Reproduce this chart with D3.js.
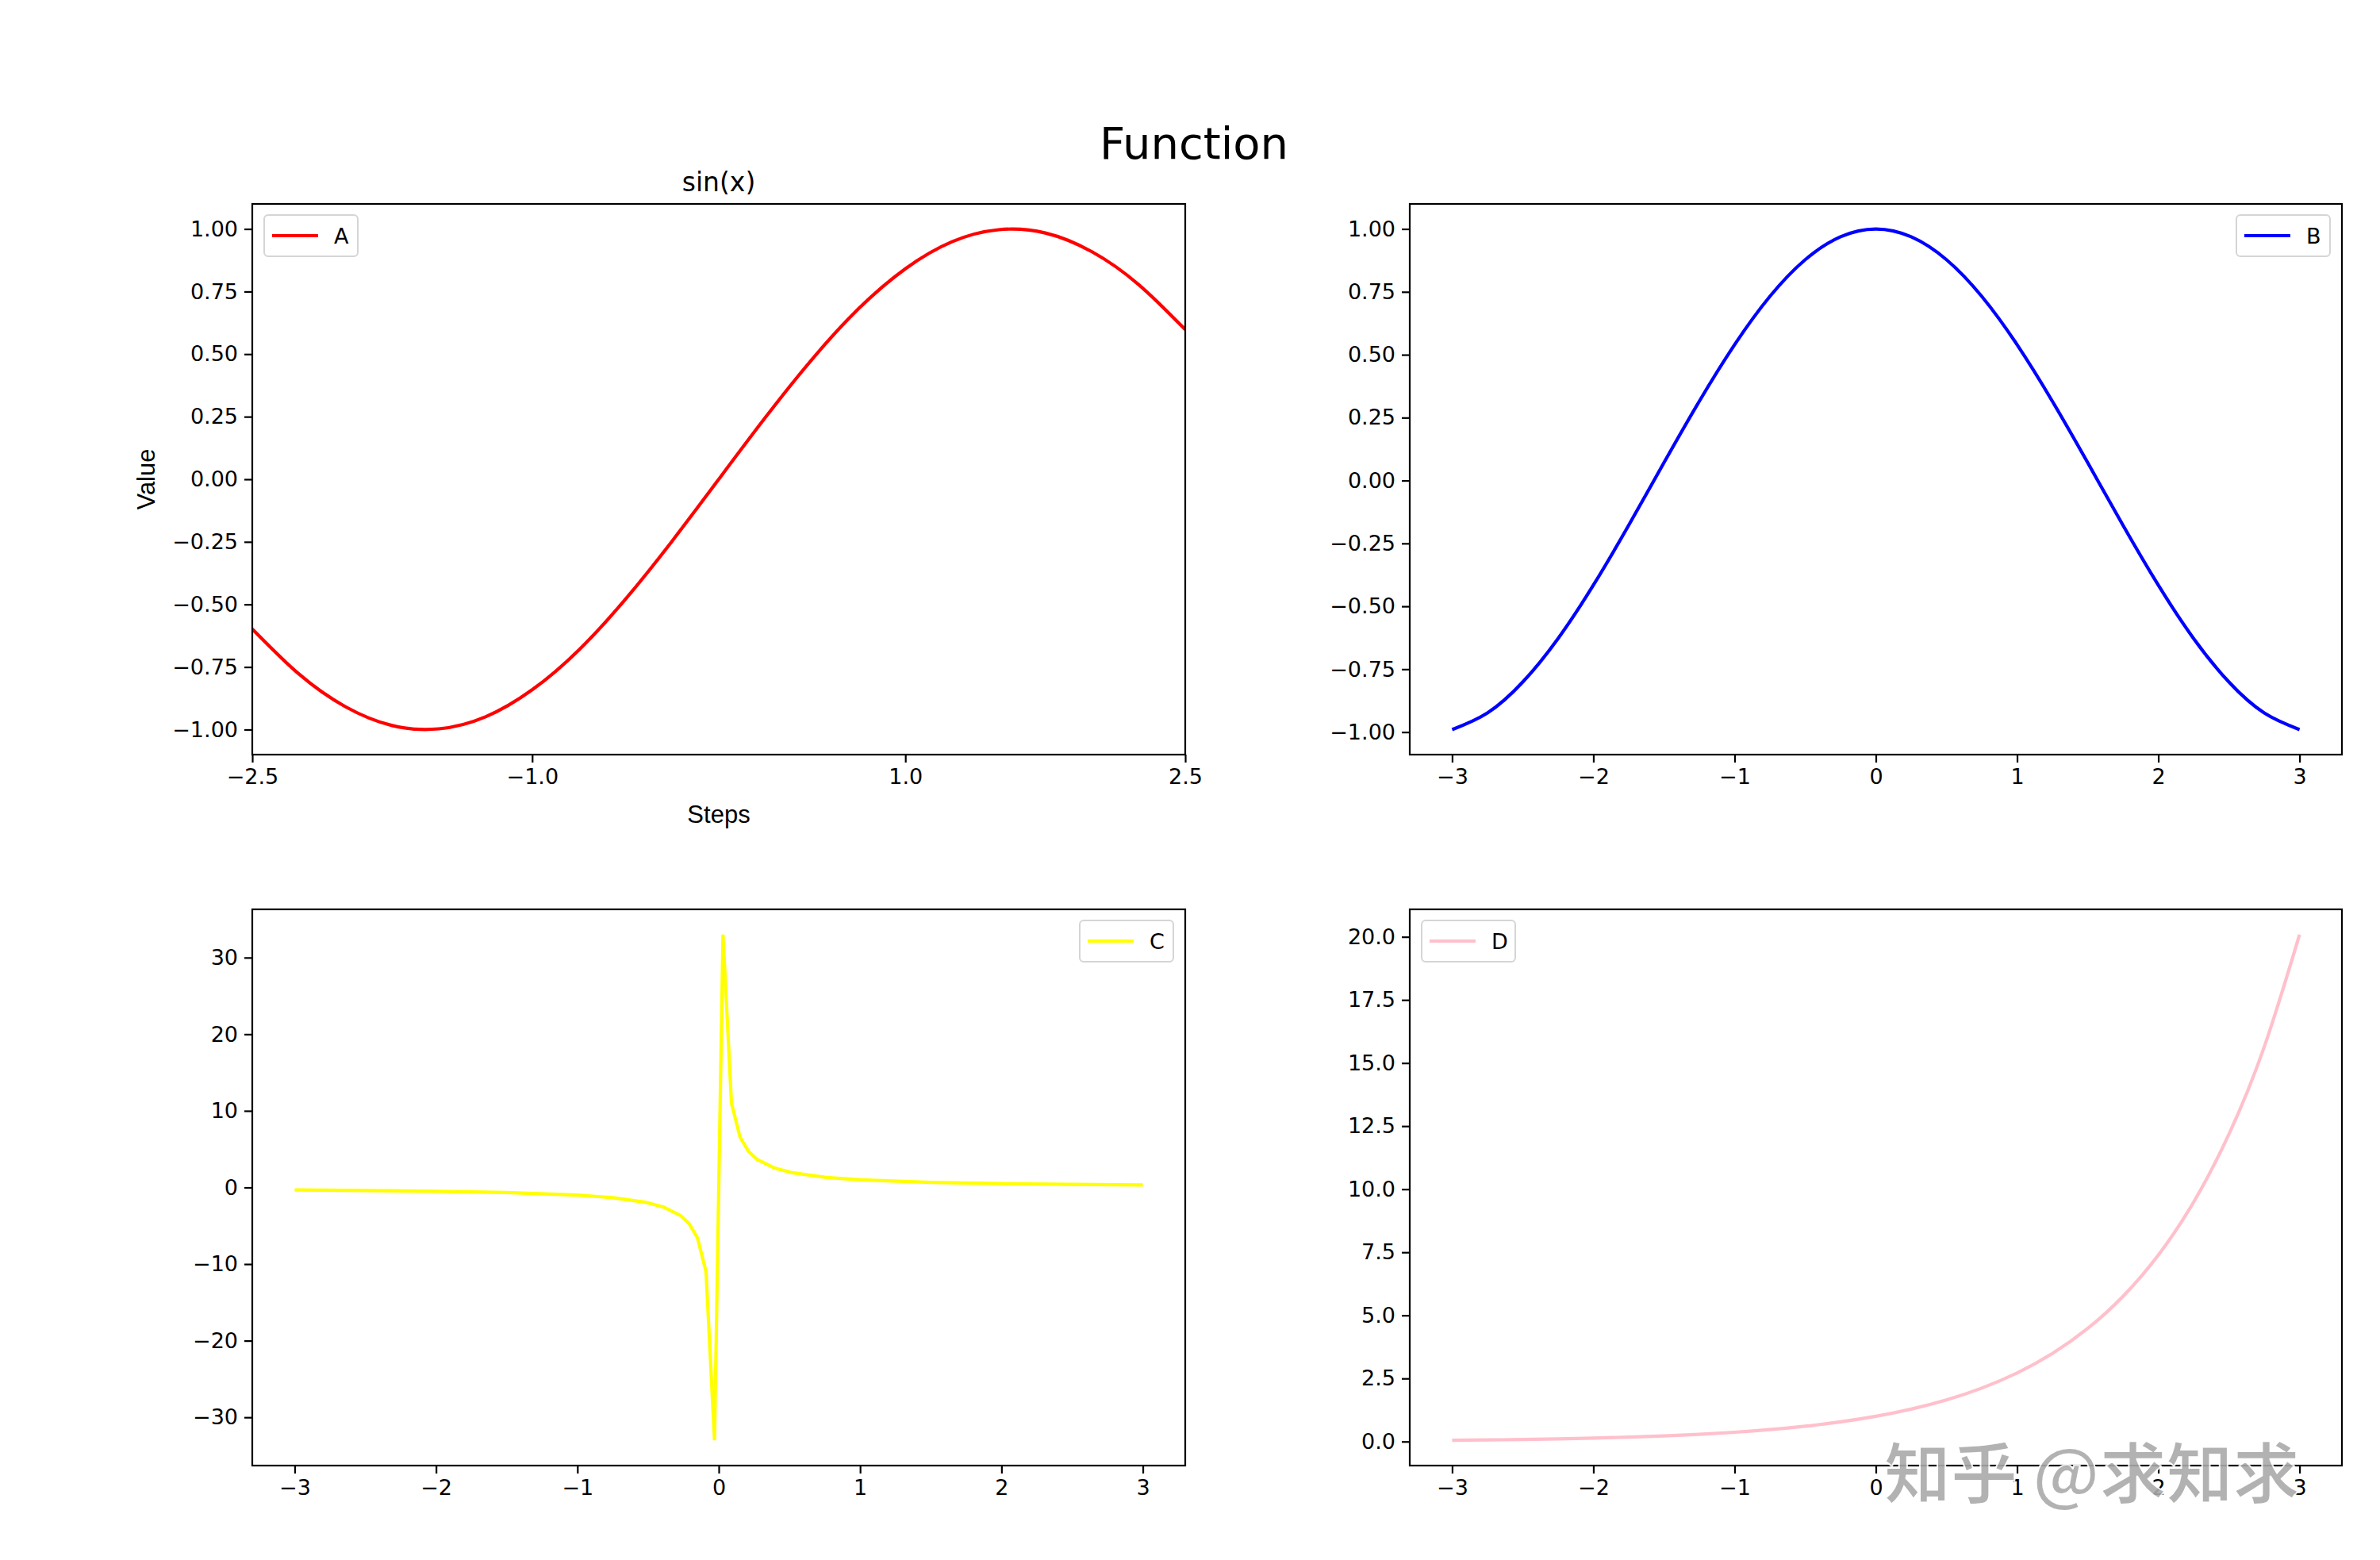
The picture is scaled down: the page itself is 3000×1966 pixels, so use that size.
<!DOCTYPE html>
<html><head><meta charset="utf-8">
<script src="https://cdn.jsdelivr.net/npm/d3@7"></script>
<style>body{margin:0;background:#fff}</style></head>
<body><svg id="c" width="3000" height="1966"></svg>
<script>
const sinX = [-2.5,-2.25,-2,-1.75,-1.5,-1.25,-1,-0.75,-0.5,-0.25,0,0.25,0.5,0.75,1,1.25,1.5,1.75,2,2.25,2.5];
const sinY = [-0.598,-0.778,-0.909,-0.984,-0.997,-0.949,-0.841,-0.682,-0.479,-0.247,0,0.247,0.479,0.682,0.841,0.949,0.997,0.984,0.909,0.778,0.598];
const cosX = [-3,-2.75,-2.5,-2.25,-2,-1.75,-1.5,-1.25,-1,-0.75,-0.5,-0.25,0,0.25,0.5,0.75,1,1.25,1.5,1.75,2,2.25,2.5,2.75,3];
const cosY = [-0.990,-0.924,-0.801,-0.628,-0.416,-0.178,0.071,0.315,0.540,0.732,0.878,0.969,1,0.969,0.878,0.732,0.540,0.315,0.071,-0.178,-0.416,-0.628,-0.801,-0.924,-0.990];
const invX = [-3,-2.5,-2,-1.5,-1,-0.76,-0.52,-0.39,-0.27,-0.21,-0.15,-0.09,-0.03,0.03,0.09,0.15,0.21,0.27,0.39,0.52,0.76,1,1.5,2,2.5,3];
const invY = [-0.333,-0.4,-0.5,-0.667,-1,-1.316,-1.923,-2.564,-3.67,-4.71,-6.6,-11,-33,33,11,6.6,4.71,3.67,2.564,1.923,1.316,1,0.667,0.5,0.4,0.333];
const expX = cosX;
const expY = [0.050,0.064,0.082,0.105,0.135,0.174,0.223,0.287,0.368,0.472,0.607,0.779,1.0,1.284,1.649,2.117,2.718,3.490,4.482,5.755,7.389,9.488,12.18,15.64,20.09];
const ticksA_x = [-2.5,-1.0,1.0,2.5];
const ticksA_y = [-1,-0.75,-0.5,-0.25,0,0.25,0.5,0.75,1];
const ticksInt = [-3,-2,-1,0,1,2,3];
const ticksC_y = [-30,-20,-10,0,10,20,30];
const ticksD_y = [0,2.5,5,7.5,10,12.5,15,17.5,20];

const svg = d3.select('#c');
const F = 'DejaVu Sans, sans-serif';
const minus = s => s.replace(/-/g,'\u2212');

function panel(o){
  const g = svg.append('g');
  const x = d3.scaleLinear().domain(o.xd).range([o.x0,o.x1]);
  const y = d3.scaleLinear().domain(o.yd).range([o.y1,o.y0]);
  const xa = g.append('g').attr('transform',`translate(0,${o.y1})`)
    .call(d3.axisBottom(x).tickValues(o.xt).tickSize(10).tickPadding(8).tickFormat(d=>minus(o.xf(d))));
  const ya = g.append('g').attr('transform',`translate(${o.x0},0)`)
    .call(d3.axisLeft(y).tickValues(o.yt).tickSize(10).tickPadding(8).tickFormat(d=>minus(o.yf(d))));
  [xa,ya].forEach(a=>{a.select('.domain').remove();
    a.selectAll('line').attr('stroke','#000').attr('stroke-width',2.2);
    a.selectAll('text').attr('font-family',F).attr('font-size',27).attr('fill','#000');});
  const clipId='clip'+Math.random().toString(36).slice(2);
  g.append('clipPath').attr('id',clipId).append('rect').attr('x',o.x0).attr('y',o.y0).attr('width',o.x1-o.x0).attr('height',o.y1-o.y0);
  const pts = o.xs.map((v,i)=>[v,o.ys[i]]);
  g.append('path').datum(pts).attr('clip-path',`url(#${clipId})`)
    .attr('d',d3.line().x(d=>x(d[0])).y(d=>y(d[1])).curve(o.curve||d3.curveNatural))
    .attr('fill','none').attr('stroke',o.color).attr('stroke-width',4.2);
  g.append('rect').attr('x',o.x0).attr('y',o.y0).attr('width',o.x1-o.x0).attr('height',o.y1-o.y0)
    .attr('fill','none').attr('stroke','#000').attr('stroke-width',2.2);
  const lw=118, lh=52;
  const lx = o.legend==='left' ? o.x0+15 : o.x1-15-lw, ly=o.y0+14;
  g.append('rect').attr('x',lx).attr('y',ly).attr('width',lw).attr('height',lh).attr('rx',5)
    .attr('fill','#fff').attr('fill-opacity',0.8).attr('stroke','#d5d5d5').attr('stroke-width',2);
  g.append('line').attr('x1',lx+10).attr('x2',lx+68).attr('y1',ly+lh/2).attr('y2',ly+lh/2)
    .attr('stroke',o.color).attr('stroke-width',4.2);
  g.append('text').attr('x',lx+88).attr('y',ly+lh/2+10).text(o.label)
    .attr('font-family',F).attr('font-size',27);
  return {x,y,g};
}

const L=[318,1494], R=[1777,2952], T=[257,951], B=[1146,1847];
const f2=d=>d.toFixed(2), f1=d=>d.toFixed(1), f0=d=>d.toFixed(0);

panel({x0:L[0],x1:L[1],y0:T[0],y1:T[1],xd:[-2.5,2.5],yd:[-1.1,1.1],xt:ticksA_x,yt:ticksA_y,xf:f1,yf:f2,
  xs:sinX,ys:sinY,color:'#ff0000',label:'A',legend:'left'});
panel({x0:R[0],x1:R[1],y0:T[0],y1:T[1],xd:[-3.3,3.3],yd:[-1.0895,1.0995],xt:ticksInt,yt:ticksA_y,xf:f0,yf:f2,
  xs:cosX,ys:cosY,color:'#0000ff',label:'B',legend:'right'});
panel({x0:L[0],x1:L[1],y0:B[0],y1:B[1],xd:[-3.3,3.3],yd:[-36.3,36.3],xt:ticksInt,yt:ticksC_y,xf:f0,yf:f0,
  xs:invX,ys:invY,color:'#ffff00',label:'C',legend:'right',curve:d3.curveLinear});
panel({x0:R[0],x1:R[1],y0:B[0],y1:B[1],xd:[-3.3,3.3],yd:[-0.952,21.09],xt:ticksInt,yt:ticksD_y,xf:f0,yf:f1,
  xs:expX,ys:expY,color:'#ffc0cb',label:'D',legend:'left'});

svg.append('text').attr('x',1505).attr('y',200).attr('text-anchor','middle').attr('font-family',F).attr('font-size',56).text('Function');
svg.append('text').attr('x',(L[0]+L[1])/2).attr('y',241).attr('text-anchor','middle').attr('font-family',F).attr('font-size',33).text('sin(x)');
svg.append('text').attr('x',(L[0]+L[1])/2).attr('y',1037).attr('text-anchor','middle').attr('font-family','Liberation Sans, Arial, sans-serif').attr('font-size',31).text('Steps');
svg.append('text').attr('transform','translate(195,604) rotate(-90)').attr('text-anchor','middle').attr('font-family','Liberation Sans, Arial, sans-serif').attr('font-size',31).text('Value');
svg.append('text').attr('x',2375).attr('y',1888).attr('font-family','Noto Sans CJK SC, sans-serif').attr('font-size',84).attr('font-weight','bold')
  .attr('fill','#aaa').attr('stroke','#fff').attr('stroke-width',2).attr('opacity',0.9).text('知乎 @求知求');
</script></body></html>
